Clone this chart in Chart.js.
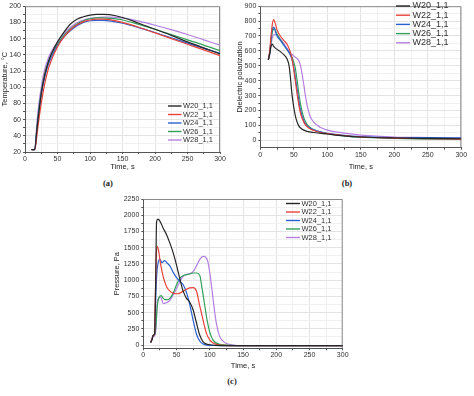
<!DOCTYPE html>
<html>
<head>
<meta charset="utf-8">
<script src="https://cdn.jsdelivr.net/npm/chart.js@4/dist/chart.umd.min.js"></script>
<style>
  html, body { margin:0; padding:0; background:#fff; }
  body { width:474px; height:396px; position:relative; overflow:hidden; }
  canvas { position:absolute; }
  .cap { position:absolute; transform:translate(-50%,-50%); font-family:"Liberation Serif", serif; font-weight:bold; font-size:8.5px; color:#222; }
</style>
</head>
<body>
<canvas id="ca" width="230" height="171" style="left:0px;top:0px;width:230px;height:171px"></canvas>
<canvas id="cb" width="234" height="171" style="left:235px;top:0px;width:234px;height:171px"></canvas>
<canvas id="cc" width="240" height="180" style="left:112px;top:190px;width:240px;height:180px"></canvas>
<div class="cap" style="left:108px;top:183px">(a)</div>
<div class="cap" style="left:347px;top:183px">(b)</div>
<div class="cap" style="left:232px;top:381px">(c)</div>
<script>
// ---------- DATA ----------
const seriesNames = ['W20_1,1', 'W22_1,1', 'W24_1,1', 'W26_1,1', 'W28_1,1'];

// (a) Temperature, °C
const timeA   = [10, 15, 18, 20, 25, 30, 35, 40, 50, 60, 70, 80, 90, 100, 110, 120, 130, 150, 175, 200, 225, 250, 275, 300];
const tempW20 = [23, 23, 45, 60, 92, 114, 129, 140, 156, 168, 178, 184, 187, 189, 190, 190, 189.5, 186, 179, 171.5, 164, 156, 148.5, 141];
const tempW22 = [23, 23, 38, 52, 80, 103, 120, 132, 150, 162, 171, 177, 181, 183, 184, 184, 183.5, 180, 174, 167, 160, 153, 146, 139];
const tempW24 = [23, 23, 44, 60, 90, 111, 126, 136, 151, 162, 170, 176, 180, 182, 182.5, 182.5, 182, 179, 173.5, 167.5, 161, 154.5, 148, 142];
const tempW26 = [23, 23, 47, 64, 94, 115, 129, 139, 153, 164, 172, 178, 182, 184.5, 185.5, 185.5, 185, 183, 177.5, 171.5, 165, 158.5, 152, 145];
const tempW28 = [23, 23, 52, 70, 100, 121, 134, 143, 156, 166, 174, 179.5, 183, 185, 186, 186.5, 186.5, 185.5, 181.5, 176.5, 171, 165, 158.5, 152];

// (b) Dielectric polarization
const timeB20 = [12, 14, 16, 18, 20, 25, 30, 35, 40, 43, 45, 47, 50, 53, 57, 62, 70, 80, 100, 125, 150, 200, 250, 300];
const dielW20 = [540, 580, 630, 645, 630, 610, 595, 575, 545, 500, 420, 320, 220, 150, 100, 75, 60, 52, 42, 30, 22, 15, 12, 10];
const timeB22 = [12, 14, 16, 18, 20, 22, 25, 30, 35, 40, 45, 48, 51, 54, 57, 60, 65, 70, 80, 90, 100, 125, 150, 200, 250, 300];
const dielW22 = [540, 600, 700, 780, 810, 790, 740, 700, 670, 645, 590, 530, 440, 340, 250, 180, 120, 90, 65, 52, 45, 32, 22, 14, 10, 8];
const timeB24 = [12, 14, 16, 18, 20, 22, 25, 30, 35, 40, 45, 48, 51, 54, 57, 60, 65, 70, 80, 90, 100, 125, 150, 200, 250, 300];
const dielW24 = [540, 590, 680, 745, 760, 740, 700, 670, 640, 610, 570, 530, 460, 370, 280, 200, 130, 95, 70, 56, 47, 33, 25, 18, 17, 16];
const timeB26 = [12, 14, 16, 18, 21, 24, 28, 33, 38, 43, 48, 52, 55, 58, 61, 65, 70, 80, 90, 100, 125, 150, 200, 250, 300];
const dielW26 = [540, 580, 660, 730, 750, 720, 690, 655, 620, 590, 550, 490, 400, 300, 220, 150, 105, 70, 55, 45, 30, 20, 12, 8, 6];
const timeB28 = [12, 14, 16, 18, 21, 25, 30, 35, 40, 45, 50, 55, 58, 61, 64, 67, 70, 74, 80, 90, 100, 125, 150, 200, 250, 300];
const dielW28 = [540, 570, 640, 690, 710, 705, 680, 650, 615, 585, 565, 548, 530, 480, 400, 310, 230, 165, 120, 85, 68, 48, 35, 22, 18, 15];

// (c) Pressure, Pa
const timeC20  = [11, 13, 15, 17, 18.5, 20, 22, 25, 30, 35, 40, 45, 50, 55, 60, 65, 70, 75, 80, 85, 90, 95, 100, 110, 150, 200, 250, 300];
const pressW20 = [40, 80, 150, 180, 900, 1900, 1940, 1910, 1800, 1700, 1570, 1420, 1230, 1020, 830, 720, 660, 540, 340, 150, 50, 15, 5, -5, -10, -10, -10, -10];
const timeC22  = [11, 13, 15, 17, 18, 19.5, 21, 23, 26, 30, 35, 40, 45, 50, 55, 60, 65, 70, 75, 80, 85, 90, 95, 100, 105, 115, 150, 200, 250, 300];
const pressW22 = [40, 90, 150, 170, 700, 1350, 1520, 1450, 1250, 1050, 900, 830, 800, 790, 800, 830, 860, 880, 885, 830, 600, 385, 180, 80, 30, 0, -10, -10, -10, -10];
const timeC24  = [11, 13, 15, 17, 18, 20, 22, 25, 28, 32, 36, 40, 45, 50, 55, 60, 65, 70, 75, 80, 85, 90, 95, 150, 200, 250, 300];
const pressW24 = [40, 90, 150, 170, 500, 1050, 1250, 1320, 1270, 1300, 1260, 1220, 1120, 1040, 980, 930, 810, 620, 380, 170, 60, 15, 0, -10, -10, -10, -10];
const timeC26  = [11, 13, 15, 17, 19, 21, 24, 27, 30, 33, 37, 40, 45, 50, 55, 60, 65, 70, 75, 80, 85, 88, 92, 96, 100, 105, 115, 150, 200, 250, 300];
const pressW26 = [40, 90, 150, 160, 300, 600, 740, 760, 720, 700, 700, 720, 800, 930, 1030, 1070, 1085, 1095, 1110, 1110, 1070, 900, 640, 380, 200, 77, 10, -10, -10, -10, -10];
const timeC28  = [11, 13, 15, 17, 19, 21, 23, 26, 28, 30, 34, 38, 42, 46, 50, 55, 60, 65, 70, 75, 80, 85, 90, 94, 97, 100, 103, 106, 110, 115, 120, 125, 135, 150, 200, 250, 300];
const pressW28 = [40, 80, 130, 140, 250, 650, 720, 740, 690, 640, 650, 670, 720, 790, 870, 980, 1060, 1090, 1100, 1130, 1220, 1320, 1365, 1350, 1290, 1120, 880, 620, 330, 130, 60, 25, 0, -10, -10, -10, -10];

// tick values
const xTickValues = [0, 25, 50, 75, 100, 125, 150, 175, 200, 225, 250, 275, 300];
const yTickValuesA = [20, 30, 40, 50, 60, 70, 80, 90, 100, 110, 120, 130, 140, 150, 160, 170, 180, 190, 200];
const yTickValuesB = [0, 50, 100, 150, 200, 250, 300, 350, 400, 450, 500, 550, 600, 650, 700, 750, 800, 850, 900];
const yTickValuesC = [0, 125, 250, 375, 500, 625, 750, 875, 1000, 1125, 1250, 1375, 1500, 1625, 1750, 1875, 2000, 2125, 2250];

const seriesColors = ['#262626', '#e8423a', '#2a5fcf', '#33a05a', '#b57fe0'];

// ---------- HELPERS ----------
Chart.defaults.font.family = '"Liberation Sans", Arial, sans-serif';

function pts(xs, ys) { return xs.map((x, i) => ({ x: x, y: ys[i] })); }

function makeDatasets(pairs) {
  return pairs.map((p, i) => ({
    label: seriesNames[i],
    data: pts(p[0], p[1]),
    borderColor: seriesColors[i],
    backgroundColor: seriesColors[i],
    borderWidth: 1.2,
    pointRadius: 0,
    cubicInterpolationMode: 'monotone',
    fill: false
  }));
}

const insideLegend = {
  id: 'insideLegend',
  afterDatasetsDraw(chart, args, o) {
    const ctx = chart.ctx;
    ctx.save();
    ctx.font = o.fontSize + 'px "Liberation Sans", Arial, sans-serif';
    ctx.textBaseline = 'middle';
    ctx.textAlign = 'left';
    chart.data.datasets.forEach((ds, i) => {
      const y = o.y + i * o.spacing;
      ctx.strokeStyle = ds.borderColor;
      ctx.lineWidth = 1.4;
      ctx.beginPath();
      ctx.moveTo(o.x, y);
      ctx.lineTo(o.x + o.len, y);
      ctx.stroke();
      ctx.fillStyle = '#333';
      ctx.fillText(ds.label, o.x + o.len + o.gap, y);
    });
    ctx.restore();
  }
};

const frame = {
  id: 'frame',
  beforeDatasetsDraw(chart) {
    const a = chart.chartArea, ctx = chart.ctx;
    ctx.save();
    ctx.strokeStyle = '#8a8a8a';
    ctx.lineWidth = 1;
    ctx.beginPath();
    ctx.moveTo(a.left, a.top + 0.5);
    ctx.lineTo(a.right - 0.5, a.top + 0.5);
    ctx.lineTo(a.right - 0.5, a.bottom);
    ctx.stroke();
    ctx.restore();
  }
};

function xScale(height) {
  return {
    type: 'linear', min: 0, max: 300,
    afterBuildTicks: s => { s.ticks = xTickValues.map(v => ({ value: v })); },
    afterFit: s => { s.height = height; },
    ticks: { autoSkip: false, maxRotation: 0, padding: 1, font: { size: 7 }, color: '#333',
             callback: v => (v % 50 === 0 ? String(v) : '') },
    grid: { color: c => (c.tick && c.tick.value % 50 === 0 ? '#e3e3e3' : '#f0f0f0'),
            tickColor: '#555', tickLength: 2, lineWidth: 1 },
    border: { color: '#555', width: 1 },
    title: { display: true, text: 'Time, s', font: { size: 7.5 }, color: '#222', padding: 0 }
  };
}

function yScale(min, max, tickVals, major, width, title) {
  return {
    type: 'linear', min: min, max: max,
    afterBuildTicks: s => { s.ticks = tickVals.map(v => ({ value: v })); },
    afterFit: s => { s.width = width; },
    ticks: { autoSkip: false, padding: 2, font: { size: 7 }, color: '#333',
             callback: v => (v % major === 0 ? String(v) : '') },
    grid: { color: c => (c.tick && c.tick.value % major === 0 ? '#e3e3e3' : '#f0f0f0'),
            tickColor: '#555', tickLength: 2, lineWidth: 1 },
    border: { color: '#555', width: 1 },
    title: { display: true, text: title, font: { size: 7.5 }, color: '#222', padding: 0 }
  };
}

function baseOptions(pad, xs, ys, legendOpts) {
  return {
    responsive: false, animation: false, devicePixelRatio: 1,
    layout: { padding: pad, autoPadding: false },
    scales: { x: xs, y: ys },
    plugins: { legend: { display: false }, tooltip: { enabled: false }, insideLegend: legendOpts }
  };
}

// ---------- (a) ----------
new Chart(document.getElementById('ca'), {
  type: 'line',
  data: { datasets: makeDatasets([[timeA, tempW20], [timeA, tempW22], [timeA, tempW24], [timeA, tempW26], [timeA, tempW28]]) },
  options: baseOptions({ top: 3, right: 10, left: 0, bottom: 0 },
    xScale(19),
    yScale(20, 200, yTickValuesA, 20, 25, 'Temperature, °C'),
    { x: 168, y: 106, spacing: 8.5, len: 13.5, gap: 1.5, fontSize: 7.5 }),
  plugins: [frame, insideLegend]
});

// ---------- (b) ----------
new Chart(document.getElementById('cb'), {
  type: 'line',
  data: { datasets: makeDatasets([[timeB20, dielW20], [timeB22, dielW22], [timeB24, dielW24], [timeB26, dielW26], [timeB28, dielW28]]) },
  options: baseOptions({ top: 2.7, right: 7.7, left: 0, bottom: 0 },
    xScale(23.3),
    yScale(-50, 900, yTickValuesB, 100, 25.3, 'Dielectric polarization'),
    { x: 161, y: 6, spacing: 9.2, len: 14, gap: 2.5, fontSize: 9 }),
  plugins: [frame, insideLegend]
});

// ---------- (c) ----------
new Chart(document.getElementById('cc'), {
  type: 'line',
  data: { datasets: makeDatasets([[timeC20, pressW20], [timeC22, pressW22], [timeC24, pressW24], [timeC26, pressW26], [timeC28, pressW28]]) },
  options: baseOptions({ top: 9, right: 9.3, left: 0, bottom: 0 },
    xScale(21.7),
    yScale(-50, 2250, yTickValuesC, 250, 31.3, 'Pressure, Pa'),
    { x: 174, y: 13.5, spacing: 8.5, len: 14, gap: 1.5, fontSize: 7.5 }),
  plugins: [frame, insideLegend]
});
</script>
</body>
</html>
